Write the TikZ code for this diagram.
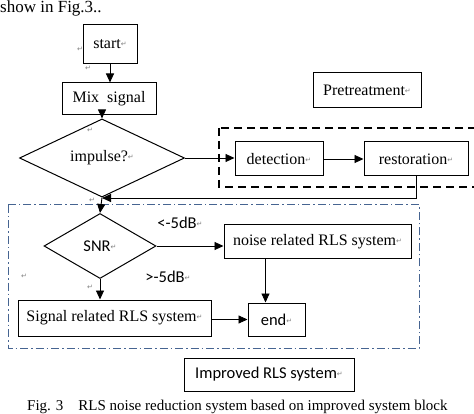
\documentclass[tikz,border=0pt]{standalone}
\usepackage{fontspec}
\setmainfont{Liberation Serif}
\newfontfamily\calfont{Carlito}
\newfontfamily\retfont{DejaVu Sans}
\usetikzlibrary{shapes.geometric,arrows.meta}
\definecolor{dashblue}{RGB}{70,100,145}
\newcommand{\rmk}{{\retfont\fontsize{7}{7}\selectfont\textcolor{gray}{\raisebox{2pt}{↵}}}}
\begin{document}
\begin{tikzpicture}[x=1pt,y=-1pt,
  box/.style={draw,line width=1pt,rectangle,inner sep=0pt,font=\fontsize{16}{19}\selectfont},
  cbox/.style={box,font=\calfont\fontsize{16.5}{19}\selectfont},
  dia/.style={draw,line width=1pt,diamond,inner sep=0pt,font=\fontsize{16}{19}\selectfont},
  arr/.style={line width=0.9pt,-{Triangle[length=9pt,width=8pt]}},
  lbl/.style={inner sep=0pt,font=\calfont\fontsize{16.5}{19}\selectfont},
  stray/.style={inner sep=0pt}]
\useasboundingbox (0,0) rectangle (474,414);
\clip (0,0) rectangle (474,414);

% frames
\draw[line width=1.4pt,dash pattern=on 8pt off 5pt] (219,128) rectangle (490,187);
\draw[dashblue,line width=1pt,dash pattern=on 8pt off 3pt on 1.5pt off 3pt] (8,205) rectangle (419,348);

% nodes
\node[box,minimum width=54,minimum height=39] (start) at (110,44.5) {start\rmk};
\node[box,minimum width=94,minimum height=32] (mix) at (109,99) {Mix~ signal};
\node[dia,minimum width=165,minimum height=59] (imp) at (102,158) {impulse?\rmk};
\node[box,minimum width=88,minimum height=34] (det) at (279,159) {detection\rmk};
\node[box,minimum width=104,minimum height=34] (rest) at (416,159) {restoration\rmk};
\node[box,minimum width=108,minimum height=35] (pre) at (367,90.5) {Pretreatment\rmk};
\node[dia,minimum width=112,minimum height=65,font=\calfont\fontsize{16.5}{19}\selectfont] (snr) at (100,246) {SNR\rmk};
\node[box,minimum width=187,minimum height=34] (noise) at (317.5,242) {noise related RLS system\rmk};
\node[box,minimum width=193,minimum height=36] (sig) at (114.5,318) {Signal related RLS system\rmk};
\node[cbox,minimum width=57,minimum height=33] (end) at (276.5,319.5) {end\rmk};
\node[cbox,minimum width=170,minimum height=33] (imp2) at (269,374.5) {Improved RLS system\rmk};

\node[lbl] (lt) at (180,223) {<-5dB\rmk};
\node[lbl] (gt) at (168,277) {>-5dB\rmk};

% texts outside the figure
\node[anchor=base west,inner sep=0pt,font=\fontsize{17}{20}\selectfont] (top) at (0,12.5) {show in Fig.3..};
\node[anchor=base west,inner sep=0pt,font=\fontsize{15}{18}\selectfont] (cap) at (27,410) {Fig. 3\quad RLS noise reduction system based on improved system block};

% stray paragraph marks
\node[stray] (m1) at (80,50) {\rmk};
\node[stray] (m2) at (88,69) {\rmk};
\node[stray] (m3) at (90,131) {\rmk};
\node[stray] (m4) at (92,201) {\rmk};
\node[stray] (m5) at (24,277) {\rmk};
\node[stray] (m6) at (90,288) {\rmk};

% connectors
\coordinate (j) at (imp.south |- 0,198);
\draw[arr] (start) -- (start |- mix.north);
\draw[arr] (mix.south -| imp.north) -- (imp.north);
\draw[arr] (imp.east) -- (imp.east -| det.west);
\draw[arr] (det) -- (rest);
\draw[arr] (rest.south) |- (j);
\draw[arr] (imp.south) -- (snr.north);
\draw[arr] (snr.east) -- (snr.east -| noise.west);
\draw[arr] (snr.south) -- (snr.south |- sig.north);
\draw[arr] ([xshift=-11pt]end.north |- noise.south) -- ([xshift=-11pt]end.north);
\draw[arr] (sig.east |- end.west) -- (end.west);
\end{tikzpicture}
\end{document}
